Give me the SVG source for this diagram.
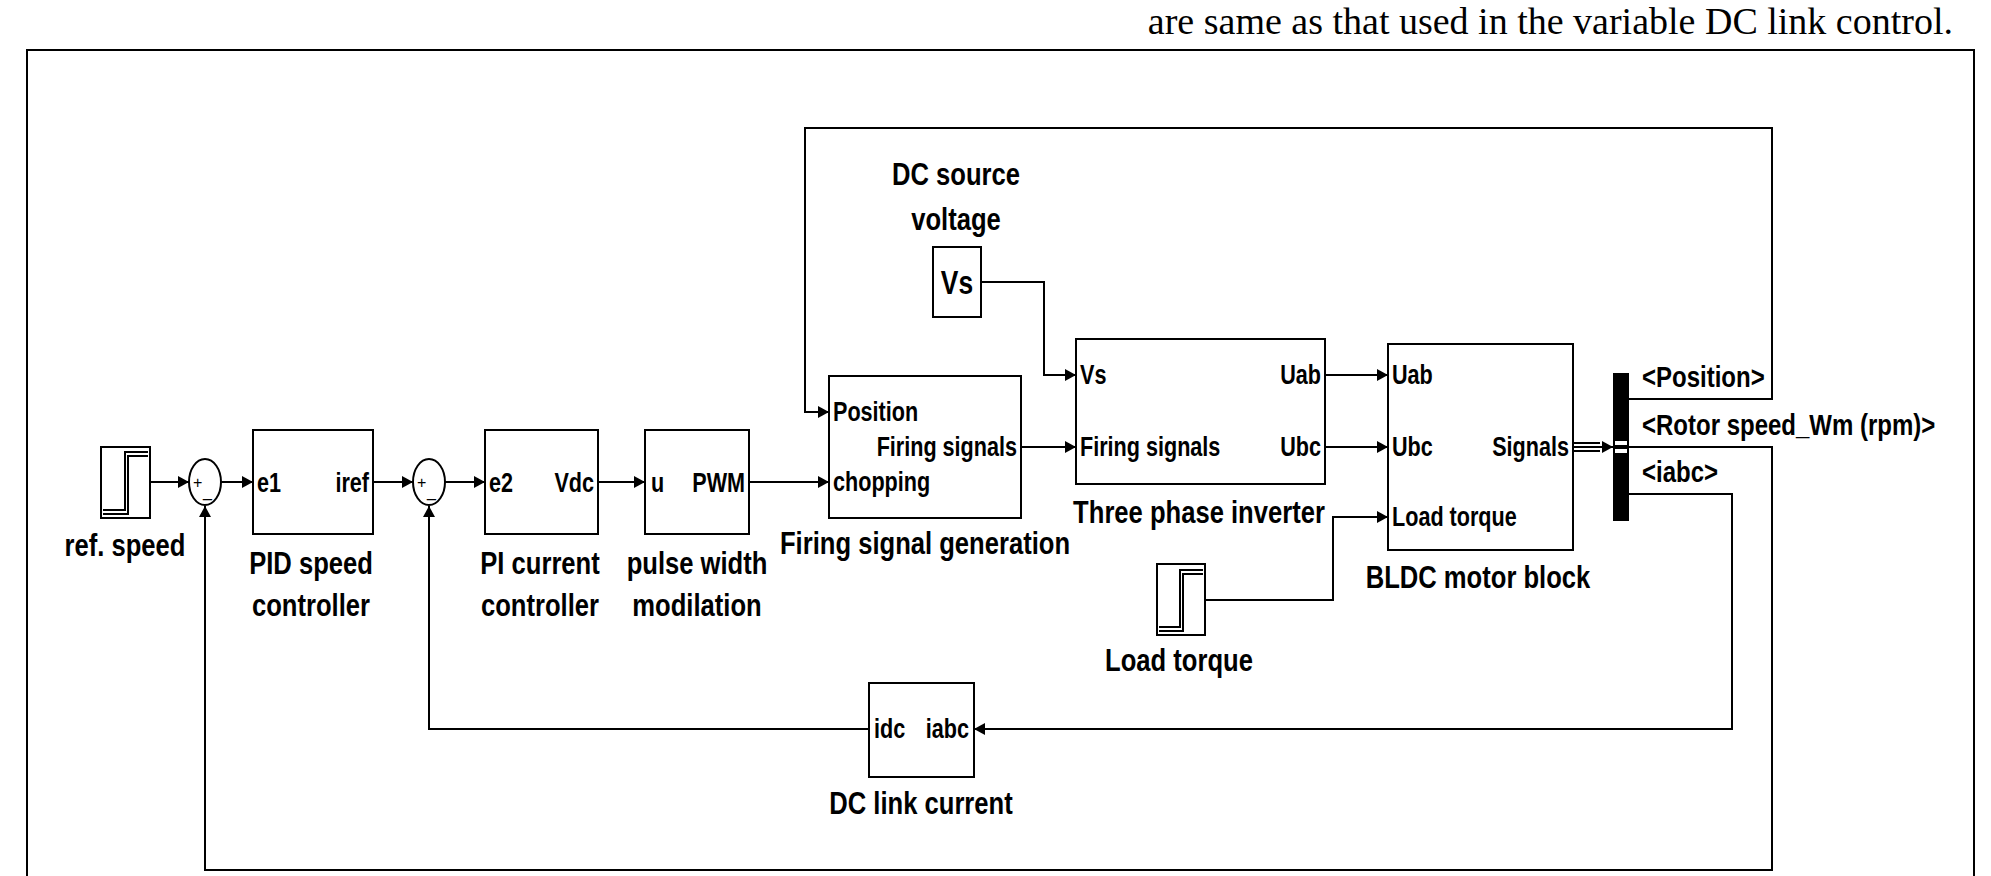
<svg xmlns="http://www.w3.org/2000/svg" width="1991" height="876" viewBox="0 0 1991 876">
<defs>
<marker id="a" markerWidth="12" markerHeight="12" refX="11" refY="6" orient="auto" markerUnits="userSpaceOnUse"><path d="M0,0 L11,6 L0,12 Z" fill="#000"/></marker>
<style>
text{font-family:"Liberation Sans",Arial,sans-serif;font-weight:bold;fill:#000}
.p{font-size:27px}
.t{font-size:32px;text-anchor:middle}
.e{text-anchor:end}
.b{fill:#fff;stroke:#000;stroke-width:2}
.w{fill:none;stroke:#000;stroke-width:2}
.c line,.c polyline{fill:none;stroke:#000;stroke-width:2}
</style>
</defs>
<rect width="1991" height="876" fill="#fff"/>
<text x="1953" y="34" style="font-family:'Liberation Serif',serif;font-weight:normal;font-size:38px;text-anchor:end">are same as that used in the variable DC link control.</text>
<rect x="27" y="50" width="1947" height="860" class="w"/>

<g class="c">
<line x1="150" y1="482" x2="189" y2="482" marker-end="url(#a)"/>
<line x1="221" y1="482" x2="253" y2="482" marker-end="url(#a)"/>
<line x1="373" y1="482" x2="413" y2="482" marker-end="url(#a)"/>
<line x1="445" y1="482" x2="485" y2="482" marker-end="url(#a)"/>
<line x1="598" y1="482" x2="645" y2="482" marker-end="url(#a)"/>
<line x1="749" y1="482" x2="829" y2="482" marker-end="url(#a)"/>
<line x1="1021" y1="447" x2="1076" y2="447" marker-end="url(#a)"/>
<polyline points="981,282 1044,282 1044,375 1076,375" marker-end="url(#a)"/>
<line x1="1325" y1="375" x2="1388" y2="375" marker-end="url(#a)"/>
<line x1="1325" y1="447" x2="1388" y2="447" marker-end="url(#a)"/>
<polyline points="1205,600 1333,600 1333,517 1388,517" marker-end="url(#a)"/>
<line x1="1573" y1="443" x2="1600" y2="443"/>
<line x1="1573" y1="447" x2="1600" y2="447"/>
<line x1="1573" y1="451" x2="1600" y2="451"/>
<line x1="1598" y1="447" x2="1613" y2="447" marker-end="url(#a)"/>
<polyline points="1629,399 1772,399 1772,128 805,128 805,412 829,412" marker-end="url(#a)"/>
<polyline points="1629,447 1772,447 1772,870 205,870 205,506" marker-end="url(#a)"/>
<polyline points="1629,494 1732,494 1732,729 974,729" marker-end="url(#a)"/>
<polyline points="869,729 429,729 429,506" marker-end="url(#a)"/>
</g>

<g id="ref-speed">
<rect x="101" y="447" width="49" height="71" class="b"/>
<polyline points="103,510 125,510 125,452 148,452" class="w"/>
<polyline points="103,514 128,514 128,456 148,456" class="w" stroke-width="1"/>
<text class="t" transform="translate(125,556) scale(0.8,1)">ref. speed</text>
</g>
<g id="sum1">
<ellipse cx="205" cy="482" rx="16" ry="23" class="b" stroke-width="1.5"/>
<text x="193" y="488" style="font-size:16px;font-weight:normal">+</text>
<text x="203" y="497" style="font-size:16px;font-weight:normal">_</text>
</g>
<g id="pid">
<rect x="253" y="430" width="120" height="104" class="b"/>
<text class="p" transform="translate(257,492) scale(0.8,1)">e1</text>
<text class="p e" transform="translate(369,492) scale(0.8,1)">iref</text>
<text class="t" transform="translate(311,574) scale(0.8,1)">PID speed</text>
<text class="t" transform="translate(311,616) scale(0.8,1)">controller</text>
</g>
<g id="sum2">
<ellipse cx="429" cy="482" rx="16" ry="23" class="b" stroke-width="1.5"/>
<text x="417" y="488" style="font-size:16px;font-weight:normal">+</text>
<text x="427" y="497" style="font-size:16px;font-weight:normal">_</text>
</g>
<g id="pi">
<rect x="485" y="430" width="113" height="104" class="b"/>
<text class="p" transform="translate(489,492) scale(0.8,1)">e2</text>
<text class="p e" transform="translate(594,492) scale(0.8,1)">Vdc</text>
<text class="t" transform="translate(540,574) scale(0.8,1)">PI current</text>
<text class="t" transform="translate(540,616) scale(0.8,1)">controller</text>
</g>
<g id="pwm">
<rect x="645" y="430" width="104" height="104" class="b"/>
<text class="p" transform="translate(651,492) scale(0.8,1)">u</text>
<text class="p e" transform="translate(745,492) scale(0.8,1)">PWM</text>
<text class="t" transform="translate(697,574) scale(0.8,1)">pulse width</text>
<text class="t" transform="translate(697,616) scale(0.8,1)">modilation</text>
</g>
<g id="firing">
<rect x="829" y="376" width="192" height="142" class="b"/>
<text class="p" transform="translate(833,421) scale(0.8,1)">Position</text>
<text class="p e" transform="translate(1017,456) scale(0.8,1)">Firing signals</text>
<text class="p" transform="translate(833,491) scale(0.8,1)">chopping</text>
<text class="t" transform="translate(925,554) scale(0.8,1)">Firing signal generation</text>
</g>
<g id="vs">
<rect x="933" y="247" width="48" height="70" class="b"/>
<text transform="translate(957,294) scale(0.8,1)" style="font-size:33px;text-anchor:middle">Vs</text>
<text class="t" transform="translate(956,185) scale(0.8,1)">DC source</text>
<text class="t" transform="translate(956,230) scale(0.8,1)">voltage</text>
</g>
<g id="inverter">
<rect x="1076" y="339" width="249" height="145" class="b"/>
<text class="p" transform="translate(1080,384) scale(0.8,1)">Vs</text>
<text class="p" transform="translate(1080,456) scale(0.8,1)">Firing signals</text>
<text class="p e" transform="translate(1321,384) scale(0.8,1)">Uab</text>
<text class="p e" transform="translate(1321,456) scale(0.8,1)">Ubc</text>
<text class="t" transform="translate(1199,523) scale(0.8,1)">Three phase inverter</text>
</g>
<g id="bldc">
<rect x="1388" y="344" width="185" height="206" class="b"/>
<text class="p" transform="translate(1392,384) scale(0.8,1)">Uab</text>
<text class="p" transform="translate(1392,456) scale(0.8,1)">Ubc</text>
<text class="p" transform="translate(1392,526) scale(0.8,1)">Load torque</text>
<text class="p e" transform="translate(1569,456) scale(0.8,1)">Signals</text>
<text class="t" transform="translate(1478,588) scale(0.8,1)">BLDC motor block</text>
</g>
<g id="load-torque">
<rect x="1157" y="564" width="48" height="71" class="b"/>
<polyline points="1159,627 1180,627 1180,570 1203,570" class="w"/>
<polyline points="1159,631 1183,631 1183,574 1203,574" class="w" stroke-width="1"/>
<text class="t" transform="translate(1179,671) scale(0.8,1)">Load torque</text>
</g>
<g id="demux">
<rect x="1613" y="373" width="16" height="148" fill="#000"/>
<rect x="1615" y="441" width="12" height="4" fill="#fff"/>
<rect x="1615" y="449" width="12" height="4" fill="#fff"/>
<text class="p" transform="translate(1642,387) scale(0.8,1)" style="font-size:30px">&lt;Position&gt;</text>
<text class="p" transform="translate(1642,435) scale(0.8,1)" style="font-size:30px">&lt;Rotor speed_Wm (rpm)&gt;</text>
<text class="p" transform="translate(1642,482) scale(0.8,1)" style="font-size:30px">&lt;iabc&gt;</text>
</g>
<g id="dc-link">
<rect x="869" y="683" width="105" height="94" class="b"/>
<text class="p" transform="translate(874,738) scale(0.8,1)">idc</text>
<text class="p e" transform="translate(969,738) scale(0.8,1)">iabc</text>
<text class="t" transform="translate(921,814) scale(0.8,1)">DC link current</text>
</g>
</svg>
